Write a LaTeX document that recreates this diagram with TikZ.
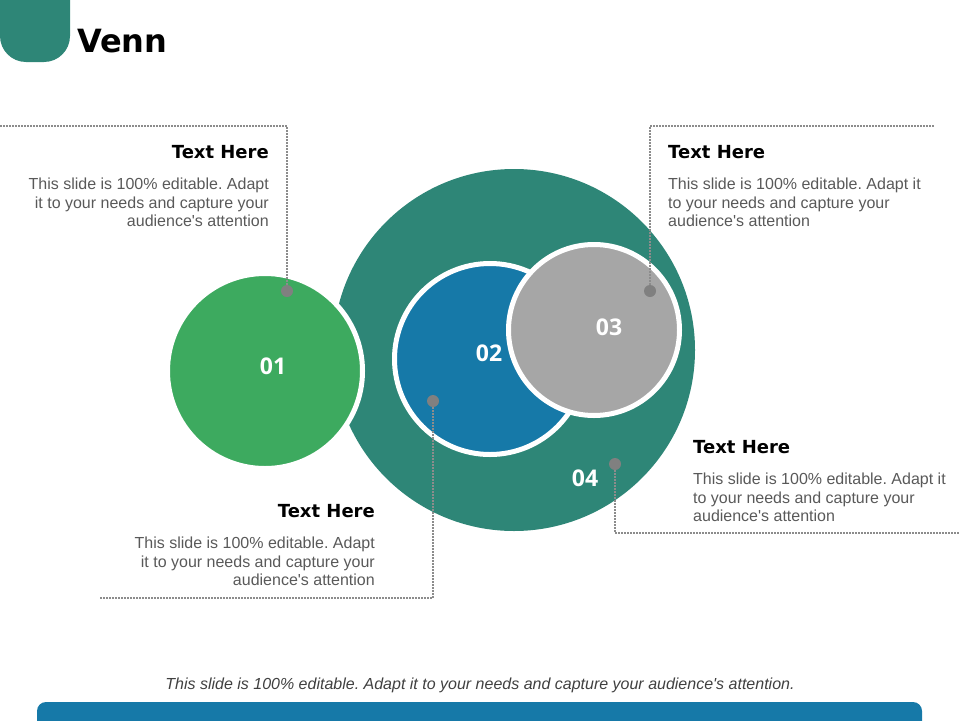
\documentclass[tikz,border=0pt]{standalone}
\usepackage{fontspec}
\setmainfont{Liberation Sans}
\newfontfamily\headfont{DejaVu Sans}
\newfontfamily\numfont{Open Sans}
\definecolor{tealV}{RGB}{46,134,119}
\definecolor{greenV}{RGB}{61,170,95}
\definecolor{blueV}{RGB}{22,121,168}
\definecolor{grayV}{RGB}{166,166,166}
\definecolor{pinGray}{RGB}{128,128,128}
\definecolor{lnGray}{RGB}{140,140,140}
\definecolor{txtGray}{RGB}{89,89,89}
\definecolor{footGray}{RGB}{64,64,64}
\frenchspacing
\begin{document}
\begin{tikzpicture}[x=1pt,y=-1pt,line join=round,
	bubble/.style={circle,inner sep=0pt,draw=white,line width=5pt},
	num/.style={text=white,font=\numfont\bfseries\fontsize{23}{23}\selectfont},
	head/.style={inner sep=0pt,font=\headfont\bfseries\fontsize{18}{18}\selectfont},
	body/.style={inner sep=0pt,text=txtGray,font=\fontsize{16}{18.5}\selectfont},
	guide/.style={draw=lnGray,line width=1.5pt,dash pattern=on 1.5pt off 1.5pt},
	pin/.style={circle,fill=pinGray,inner sep=0pt,minimum size=12pt}]
	\def\txtL{This slide is 100\% editable. Adapt\\ it to your needs and capture your\\ audience\textquotesingle s attention}
	\def\txtR{This slide is 100\% editable. Adapt it\\ to your needs and capture your\\ audience\textquotesingle s attention}
	\useasboundingbox (0,0) rectangle (960,720);
	% header
	\fill[tealV,rounded corners=26pt] (0,-40) rectangle (70,62);
	\node[anchor=base west,inner sep=0pt,font=\headfont\bfseries\fontsize{32}{32}\selectfont] (title) at (77,52) {Venn};
	% circles
	\fill[tealV] (514,350) circle (181);
	\node[bubble,fill=greenV,minimum size=195pt] (c1) at (265,371) {};
	\node[bubble,fill=blueV,minimum size=191pt] (c2) at (490,359) {};
	\node[bubble,fill=grayV,minimum size=171pt] (c3) at (594,330) {};
	\node[num] (n1) at (273,366) {01};
	\node[num] (n2) at (489,353) {02};
	\node[num] (n3) at (609,327) {03};
	\node[num] (n4) at (585,478) {04};
	% pins and guides
	\node[pin] (p1) at (287,291) {};
	\node[pin] (p2) at (650,291) {};
	\node[pin] (p3) at (433,401) {};
	\node[pin] (p4) at (615,464) {};
	\coordinate (g1) at (287,126); \coordinate (e1) at (0,126);
	\coordinate (g2) at (650,126); \coordinate (e2) at (935,126);
	\coordinate (g3) at (433,598); \coordinate (e3) at (100,598);
	\coordinate (g4) at (615,533); \coordinate (e4) at (960,533);
	\draw[guide] (p1) -- (g1) -- (e1);
	\draw[guide] (p2) -- (g2) -- (e2);
	\draw[guide] (p3) -- (g3) -- (e3);
	\draw[guide] (p4) -- (g4) -- (e4);
	% texts
	\node[head,anchor=base east] (h1) at (269,158) {Text Here};
	\node[body,anchor=north east,align=right] (b1) at (269,178) {\txtL};
	\node[head,anchor=base west] (h2) at (668,158) {Text Here};
	\node[body,anchor=north west,align=left] (b2) at (668,178) {\txtR};
	\node[head,anchor=base east] (h3) at (375,517) {Text Here};
	\node[body,anchor=north east,align=right] (b3) at (375,537) {\txtL};
	\node[head,anchor=base west] (h4) at (693,453) {Text Here};
	\node[body,anchor=north west,align=left] (b4) at (693,473) {\txtR};
	% footer
	\node[anchor=base,inner sep=0pt,text=footGray,font=\itshape\fontsize{16}{16}\selectfont] (foot) at (480,689) {This slide is 100\% editable. Adapt it to your needs and capture your audience\textquotesingle s attention.};
	\fill[blueV,rounded corners=9pt] (37,702) rectangle (922,740);
\end{tikzpicture}
\end{document}
